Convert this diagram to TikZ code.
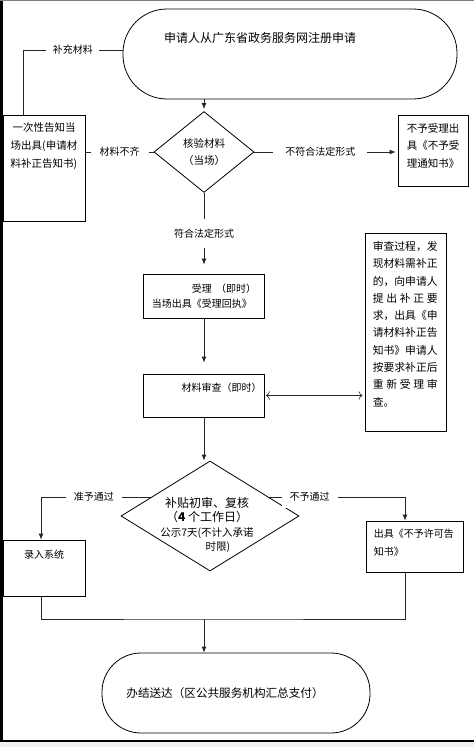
\documentclass[tikz,border=0pt]{standalone}
\usepackage{fontspec}
\setmainfont{Noto Sans CJK SC}
\usetikzlibrary{shapes.geometric,positioning,arrows.meta}
\newcommand{\wideline}[1]{\makebox[6em][s]{#1}}

\begin{document}
\begin{tikzpicture}[
        x=1pt, y=-1pt,
        every node/.style={font=\fontsize{10}{15}\selectfont},
        term/.style={draw, line width=0.8pt, inner sep=0pt},
        box/.style={draw, line width=0.8pt, inner sep=0pt},
        decision/.style={draw, diamond, line width=0.8pt, inner sep=0pt, align=center},
        txt/.style={inner sep=0pt, align=left},
        lbl/.style={fill=white, inner sep=6pt},
        line/.style={draw=black!85, line width=0.8pt},
        arrow/.style={line, -{Latex[length=6pt,width=5pt]}},
        twoway/.style={draw=black!85, line width=0.6pt, {To[length=4pt]}-{To[length=4pt]}}
    ]
    \useasboundingbox (0,0) rectangle (474,747);

    % Frame
    \fill[black!6] (0,742) rectangle (474,747);
    \draw[line width=1.2pt] (0,741) -- (474,741);
    \draw[line width=2.5pt] (1.25,0) -- (1.25,741);
    \draw[black!50, line width=0.6pt] (0,0.5) -- (474,0.5);

    % Application
    \node[term, rounded corners=44pt, minimum width=334pt, minimum height=90pt,
        font=\fontsize{12}{14}\selectfont] (start) at (290,54)
    {\raisebox{11.6pt}[0pt][0pt]{申请人从广东省政务服务网注册申请}\hspace*{60pt}};

    % Check on the spot
    \node[decision, minimum width=100pt, minimum height=81pt,
        font=\fontsize{10.5}{17}\selectfont] (check) at (204,152) {核验材料\\（当场）};

    \node[box, minimum width=82pt, minimum height=106pt] (tell) at (44,168) {};
    \node[txt, align=center, font=\fontsize{10.5}{18}\selectfont, below=8pt of tell.north] (tellt)
    {一次性告知当\\场出具(申请材\\料补正告知书)};

    \node[box, minimum width=70pt, minimum height=71pt] (refuse) at (433,151) {};
    \node[txt, font=\fontsize{10.5}{17.5}\selectfont, below=8pt of refuse.north] (refuset)
    {不予受理出\\具《不予受\\理通知书》};

    % Acceptance and review
    \node[box, minimum width=121pt, minimum height=44pt, align=left] (accept) at (204,296)
    {\hspace*{40pt}受理\ \ （即时）\\当场出具《受理回执》};

    \node[box, minimum width=121pt, minimum height=43pt] (review) at (204,395.5) {};
    \node[txt, below left=9pt and 3pt of review.north east] (reviewt) {材料审查（即时）};

    \node[box, minimum width=81pt, minimum height=198pt] (supp) at (405.5,332) {};
    \node[txt, font=\fontsize{10.8}{17.3}\selectfont, below right=8.5pt and 8pt of supp.north west] (suppt)
    {审查过程，发\\现材料需补正\\的，向申请人\\\wideline{提\hfill 出\hfill 补\hfill 正\hfill 要}\\求，出具《申\\请材料补正告\\知书》申请人\\按要求补正后\\\wideline{重\hfill 新\hfill 受\hfill 理\hfill 审}\\查。};

    % Decision
    \node[decision, minimum width=178pt, minimum height=110pt] (decide) at (210,516) {};
    \node[txt, align=center, font=\fontsize{12}{14.5}\selectfont] (decidet) at (207,525)
    {补贴初审、复核\\（\textbf{4} 个工作日）\\{\fontsize{10.5}{14.5}\selectfont 公示7天(不计入承诺}\\{\fontsize{10.5}{14.5}\selectfont\hspace*{22pt}时限)}};

    \node[box, minimum width=82pt, minimum height=56pt] (enter) at (44,568) {};
    \node[txt, below=10pt of enter.north] (entert) {录入系统};

    \node[box, minimum width=97pt, minimum height=51pt] (deny) at (414.5,546.5) {};
    \node[txt, font=\fontsize{10}{18}\selectfont, below right=8pt and 8pt of deny.north west] (denyt)
    {出具《不予许可告\\知书》};

    % Finish
    \node[term, rounded corners=39pt, minimum width=268pt, minimum height=80pt,
        font=\fontsize{11.6}{14}\selectfont] (finish) at (236,693)
    {办结送达（区公共服务机构汇总支付）\hspace*{22pt}};

    % Connectors
    \draw[arrow, shorten >=2pt] (check.north |- start.south) -- (check.north);
    \draw[arrow, shorten >=9pt] (check.south) -- node[lbl, inner ysep=10pt] (okl) {符合法定形式} (accept.north);
    \draw[line] (check.west) -- node[lbl, inner xsep=9pt] (lackl) {材料不齐} (check.west -| tell.east);
    \draw[arrow, shorten >=2pt] (check.east) -- node[lbl, pos=0.46, inner xsep=12pt] (badl) {不符合法定形式} (check.east -| refuse.west);
    \draw[line] ([yshift=4pt]start.west) -| node[lbl, pos=0.25, inner xsep=6.5pt] (addl) {补充材料} ([xshift=-21pt]tell.north);
    \draw[arrow, shorten >=11pt] (accept) -- (review);
    \draw[twoway, shorten <=1pt, shorten >=2pt] (review.east) -- (review.east -| supp.west);
    \draw[arrow] (review.south) -- (review.south |- decide.north);
    \draw[arrow] (decide.162) -| node[lbl, pos=0.26, inner xsep=8pt] (passl) {准予通过} ([xshift=-3pt]enter.north);
    \draw[arrow] (decide.18) -| node[lbl, pos=0.15, inner xsep=8pt] (faill) {不予通过} ([xshift=-9.5pt]deny.north);

    \coordinate (join) at (204,619);
    \draw[line] ([xshift=-3pt]enter.south) |- (join) -| ([xshift=-9pt]deny.south);
    \draw[arrow] (join) -- (join |- finish.north);

\end{tikzpicture}
\end{document}
